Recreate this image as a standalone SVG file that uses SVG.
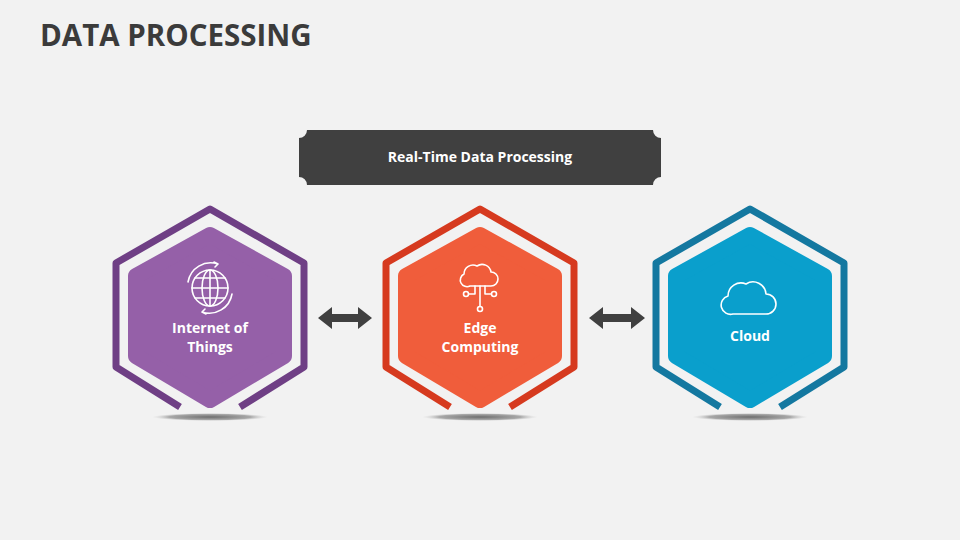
<svg xmlns="http://www.w3.org/2000/svg" width="960" height="540" viewBox="0 0 960 540">
<defs>
<style>
.lbl{font-family:"Open Sans","Liberation Sans",sans-serif;font-weight:bold;font-size:14px;fill:#fff;text-anchor:middle}
.ic{fill:none;stroke:#fff;stroke-width:1.6;stroke-linecap:round;stroke-linejoin:round}
.outer{fill:none;stroke-width:7;stroke-linejoin:round}
.inner{stroke-width:16;stroke-linejoin:round}
</style>
<radialGradient id="sh" cx="0.5" cy="0.5" r="0.5">
<stop offset="0" stop-color="#6e6e6e"/><stop offset="0.7" stop-color="#a8a8a8"/><stop offset="1" stop-color="#d8d8d8" stop-opacity="0"/>
</radialGradient>
<g id="hexbase">
<ellipse cx="0" cy="109" rx="58" ry="4" fill="url(#sh)"/>
</g>
</defs>
<rect width="960" height="540" fill="#f2f2f2"/>
<text x="40" y="46" font-family="Open Sans,Liberation Sans,sans-serif" font-weight="bold" font-size="29.5" fill="#3b3b3b">DATA PROCESSING</text>
<g id="banner">
<path d="M307,130 H653 A8,8 0 0 0 661,138 V177 A8,8 0 0 0 653,185 H307 A8,8 0 0 0 299,177 V138 A8,8 0 0 0 307,130 Z" fill="#404040"/>
<text class="lbl" x="480" y="162">Real-Time Data Processing</text>
</g>
<g id="node-iot" transform="translate(210,308)">
<use href="#hexbase"/>
<path class="outer" stroke="#6f3f85" d="M-30,99 L-94,59 V-45 L0,-99 L94,-45 V59 L30,99"/>
<polygon class="inner" fill="#9560a8" stroke="#9560a8" points="0,-73 74,-32 74,48 0,92 -74,48 -74,-32"/>
<g class="ic">
<circle cx="0" cy="-20" r="18"/>
<ellipse cx="0" cy="-20" rx="8" ry="18"/>
<line x1="0" y1="-38" x2="0" y2="-2"/>
<line x1="-18" y1="-20" x2="18" y2="-20"/>
<path d="M-15,-30 H15 M-15,-10 H15"/>
<path d="M-22,-26 A23,23 0 0 1 8,-44 M8,-44 l-4,-2 M8,-44 l-3,3"/>
<path d="M22,-14 A23,23 0 0 1 -8,4 M-8,4 l4,2 M-8,4 l3,-3"/>
</g>
<text class="lbl" x="0" y="25">Internet of</text>
<text class="lbl" x="0" y="44">Things</text>
</g>
<g id="node-edge" transform="translate(480,308)">
<use href="#hexbase"/>
<path class="outer" stroke="#d63a1f" d="M-30,99 L-94,59 V-45 L0,-99 L94,-45 V59 L30,99"/>
<polygon class="inner" fill="#f05d3b" stroke="#f05d3b" points="0,-73 74,-32 74,48 0,92 -74,48 -74,-32"/>
<g class="ic">
<path d="M-10,-22 H11 A7,7 0 0 0 11,-36 A9,9 0 0 0 -3,-42 A9,9 0 0 0 -16,-34 A6,6 0 0 0 -10,-22 Z"/>
<path d="M0,-22 V-2 M-5,-22 V-14 H-11 M5,-22 V-14 H11"/>
<circle cx="0" cy="1" r="2.5"/><circle cx="-14" cy="-14" r="2.5"/><circle cx="14" cy="-14" r="2.5"/>
</g>
<text class="lbl" x="0" y="25">Edge</text>
<text class="lbl" x="0" y="44">Computing</text>
</g>
<g id="node-cloud" transform="translate(750,308)">
<use href="#hexbase"/>
<path class="outer" stroke="#1478a0" d="M-30,99 L-94,59 V-45 L0,-99 L94,-45 V59 L30,99"/>
<polygon class="inner" fill="#0a9fcc" stroke="#0a9fcc" points="0,-73 74,-32 74,48 0,92 -74,48 -74,-32"/>
<path class="ic" stroke-width="2" d="M-17,6 H16 A10,10 0 0 0 16,-14 A13,13 0 0 0 -4,-24 A13,13 0 0 0 -22,-12 A9,9 0 0 0 -17,6 Z"/>
<text class="lbl" x="0" y="33">Cloud</text>
</g>
<g id="connectors" fill="#404040">
<polygon points="318,318 332,307 332,314 358,314 358,307 372,318 358,329 358,322 332,322 332,329"/>
<polygon points="589,318 603,307 603,314 631,314 631,307 645,318 631,329 631,322 603,322 603,329"/>
</g>
</svg>
